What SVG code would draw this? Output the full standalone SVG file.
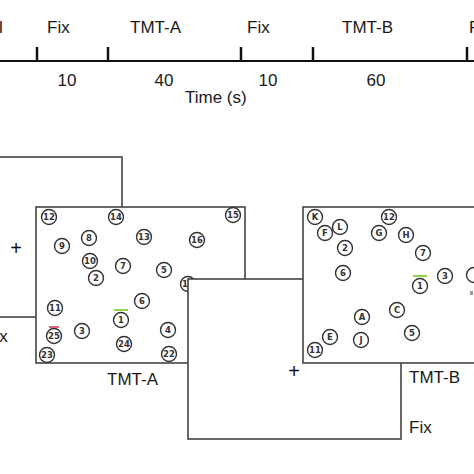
<svg xmlns="http://www.w3.org/2000/svg" width="474" height="474" viewBox="0 0 474 474">
<style>
.lbl{font-family:"Liberation Sans",Arial,sans-serif;font-size:17px;fill:#1a1a1a}
.tl{stroke:#111;stroke-width:2;fill:none}
.tick{stroke:#111;stroke-width:2.5}
.panel{fill:#fff;stroke:#444;stroke-width:1.6}
.c circle{fill:#fff;stroke:#333;stroke-width:1.4}
.c text{font-family:"DejaVu Sans",sans-serif;font-size:8.5px;font-weight:bold;fill:#333;text-anchor:middle;dominant-baseline:central}
.plus{font-family:"Liberation Sans",sans-serif;font-size:20px;fill:#111;text-anchor:middle}
</style>
<rect width="474" height="474" fill="#fff"/>
<g id="timeline">
<line class="tl" x1="0" y1="61" x2="474" y2="61"/>
<line class="tick" x1="37" y1="47" x2="37" y2="62"/>
<line class="tick" x1="108" y1="47" x2="108" y2="62"/>
<line class="tick" x1="241" y1="47" x2="241" y2="62"/>
<line class="tick" x1="313" y1="47" x2="313" y2="62"/>
<line class="tick" x1="467" y1="47" x2="467" y2="62"/>
<text class="lbl" x="-1" y="33">l</text>
<text class="lbl" x="47" y="33">Fix</text>
<text class="lbl" x="130" y="33">TMT-A</text>
<text class="lbl" x="247" y="33">Fix</text>
<text class="lbl" x="342" y="33">TMT-B</text>
<text class="lbl" x="469" y="33">Fix</text>
<text class="lbl" x="67" y="86" text-anchor="middle">10</text>
<text class="lbl" x="164" y="86" text-anchor="middle">40</text>
<text class="lbl" x="268" y="86" text-anchor="middle">10</text>
<text class="lbl" x="376" y="86" text-anchor="middle">60</text>
<text class="lbl" x="185" y="103">Time (s)</text>
</g>
<g id="fix1">
<rect class="panel" x="-20" y="157" width="142" height="160"/>
<text class="plus" x="16" y="255">+</text>
<text class="lbl" x="-15" y="342">Fix</text>
</g>
<g id="tmtA">
<rect class="panel" x="36" y="207" width="209" height="156"/>
<g class="c">
<circle cx="49" cy="217" r="7.5"/><text x="49" y="217">12</text>
<circle cx="116" cy="217" r="7.5"/><text x="116" y="217">14</text>
<circle cx="233" cy="215" r="7.5"/><text x="233" y="215">15</text>
<circle cx="62" cy="246" r="7.5"/><text x="62" y="246">9</text>
<circle cx="89" cy="238" r="7.5"/><text x="89" y="238">8</text>
<circle cx="144" cy="237" r="7.5"/><text x="144" y="237">13</text>
<circle cx="197" cy="240" r="7.5"/><text x="197" y="240">16</text>
<circle cx="90" cy="261" r="7.5"/><text x="90" y="261">10</text>
<circle cx="123" cy="266" r="7.5"/><text x="123" y="266">7</text>
<circle cx="164" cy="270" r="7.5"/><text x="164" y="270">5</text>
<circle cx="96" cy="278" r="7.5"/><text x="96" y="278">2</text>
<circle cx="188" cy="284" r="7.5"/><text x="188" y="284">18</text>
<circle cx="142" cy="301" r="7.5"/><text x="142" y="301">6</text>
<circle cx="55" cy="308" r="7.5"/><text x="55" y="308">11</text>
<circle cx="121" cy="320" r="7.5"/><text x="121" y="320">1</text>
<circle cx="54" cy="336" r="7.5"/><text x="54" y="336">25</text>
<circle cx="82" cy="331" r="7.5"/><text x="82" y="331">3</text>
<circle cx="168" cy="330" r="7.5"/><text x="168" y="330">4</text>
<circle cx="124" cy="344" r="7.5"/><text x="124" y="344">24</text>
<circle cx="47" cy="355" r="7.5"/><text x="47" y="355">23</text>
<circle cx="169" cy="354" r="7.5"/><text x="169" y="354">22</text>
</g>
<rect x="114" y="309" width="14" height="2" fill="#8fd14f"/>
<rect x="49" y="326" width="10" height="2" fill="#d9667a"/>
<text class="lbl" x="107" y="385">TMT-A</text>
</g>
<g id="fix2">
<rect class="panel" x="188" y="279" width="213" height="160"/>
<text class="plus" x="294" y="378">+</text>
<text class="lbl" x="409" y="433">Fix</text>
</g>
<g id="tmtB">
<rect class="panel" x="303" y="207" width="190" height="156"/>
<g class="c">
<circle cx="315" cy="217" r="7.5"/><text x="315" y="217">K</text>
<circle cx="389" cy="217" r="7.5"/><text x="389" y="217">12</text>
<circle cx="340" cy="227" r="7.5"/><text x="340" y="227">L</text>
<circle cx="325" cy="233" r="7.5"/><text x="325" y="233">F</text>
<circle cx="379" cy="233" r="7.5"/><text x="379" y="233">G</text>
<circle cx="406" cy="235" r="7.5"/><text x="406" y="235">H</text>
<circle cx="345" cy="248" r="7.5"/><text x="345" y="248">2</text>
<circle cx="423" cy="253" r="7.5"/><text x="423" y="253">7</text>
<circle cx="343" cy="273" r="7.5"/><text x="343" y="273">6</text>
<circle cx="445" cy="276" r="7.5"/><text x="445" y="276">3</text>
<circle cx="420" cy="286" r="7.5"/><text x="420" y="286">1</text>
<circle cx="474" cy="275" r="7.5"/>
<circle cx="397" cy="310" r="7.5"/><text x="397" y="310">C</text>
<circle cx="362" cy="317" r="7.5"/><text x="362" y="317">A</text>
<circle cx="412" cy="333" r="7.5"/><text x="412" y="333">5</text>
<circle cx="330" cy="337" r="7.5"/><text x="330" y="337">E</text>
<circle cx="361" cy="340" r="7.5"/><text x="361" y="340">J</text>
<circle cx="315" cy="350" r="7.5"/><text x="315" y="350">11</text>
</g>
<rect x="413" y="275" width="14" height="2" fill="#8fd14f"/>
<rect x="470" y="291" width="3" height="4" fill="#999"/>
<text class="lbl" x="409" y="383">TMT-B</text>
</g>
</svg>
